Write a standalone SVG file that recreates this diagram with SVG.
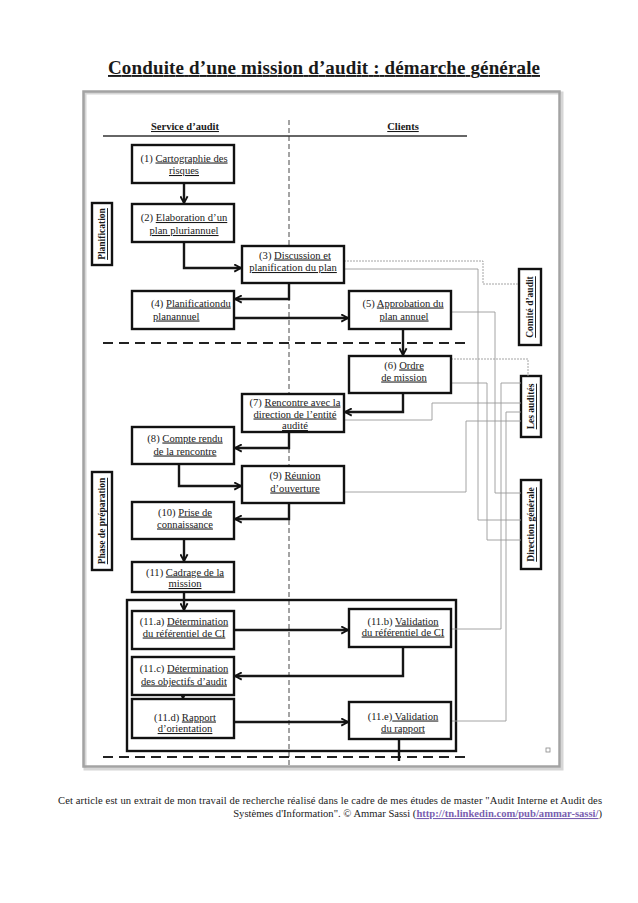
<svg xmlns="http://www.w3.org/2000/svg" width="638" height="903" viewBox="0 0 638 903">
<style>
.t{font-family:"Liberation Serif","Times New Roman",serif;fill:#1a1a1a}
.bx{font-size:10.6px}
.u{text-decoration:underline}
.box{fill:#fff;stroke:#111;stroke-width:2.4}
.lab{fill:#fff;stroke:#111;stroke-width:2.4}
.lt{font-family:"Liberation Serif",serif;font-size:9.5px;font-weight:bold;text-decoration:underline;fill:#1a1a1a}
.con{fill:none;stroke:#161616;stroke-width:2.4}
.g{fill:none;stroke:#9a9a9a;stroke-width:0.9}
.gd{fill:none;stroke:#9a9a9a;stroke-width:0.9;stroke-dasharray:2 1}
</style>
<defs>
<marker id="ar" viewBox="0 0 10 10" refX="9" refY="5" markerWidth="9" markerHeight="9" markerUnits="userSpaceOnUse" orient="auto">
<path d="M1.5,1 L9,5 L1.5,9" fill="none" stroke="#111" stroke-width="2"/>
</marker>
</defs>
<rect width="638" height="903" fill="#fff"/>
<text x="324" y="74" text-anchor="middle" class="t" font-size="19" font-weight="bold" text-decoration="underline" textLength="432">Conduite d’une mission d’audit : démarche générale</text>

<g id="frame">
<rect x="85" y="93" width="477" height="676" fill="none" stroke="#d6d6d6" stroke-width="3"/>
<rect x="83.5" y="91.5" width="476" height="675" fill="none" stroke="#a3a3a3" stroke-width="2.5"/>
</g>

<g id="header">
<text x="185" y="130" text-anchor="middle" class="t" font-size="10.5" font-weight="bold" text-decoration="underline">Service d’audit</text>
<text x="403" y="130" text-anchor="middle" class="t" font-size="10.5" font-weight="bold" text-decoration="underline">Clients</text>
<line x1="103" y1="136" x2="467" y2="136" stroke="#333" stroke-width="1.6"/>
<line x1="289" y1="120" x2="289" y2="768" stroke="#333" stroke-width="0.9" stroke-dasharray="5 3"/>
<line x1="103" y1="343" x2="467" y2="343" stroke="#222" stroke-width="2" stroke-dasharray="10 6"/>
<line x1="103" y1="757" x2="467" y2="757" stroke="#222" stroke-width="2" stroke-dasharray="10 6"/>
<rect x="546" y="748" width="4" height="4" fill="none" stroke="#888" stroke-width="0.8"/>
</g>

<g id="sidelabels">
<g id="lab-planif"><rect class="lab" x="92" y="203" width="20" height="62"/><text class="lt" transform="translate(102,234) rotate(-90)" text-anchor="middle" dominant-baseline="central">Planification</text></g>
<g id="lab-prep"><rect class="lab" x="92" y="472" width="20" height="98"/><text class="lt" transform="translate(102,521) rotate(-90)" text-anchor="middle" dominant-baseline="central">Phase de préparation</text></g>
<g id="lab-comite"><rect class="lab" x="519" y="269" width="22" height="76"/><text class="lt" transform="translate(530,307) rotate(-90)" text-anchor="middle" dominant-baseline="central">Comité d’audit</text></g>
<g id="lab-audites"><rect class="lab" x="521" y="376" width="20" height="61"/><text class="lt" transform="translate(531,406.5) rotate(-90)" text-anchor="middle" dominant-baseline="central">Les audités</text></g>
<g id="lab-dg"><rect class="lab" x="521" y="480" width="20" height="89"/><text class="lt" transform="translate(531,524.5) rotate(-90)" text-anchor="middle" dominant-baseline="central">Direction générale</text></g>
</g>

<g id="container"><rect x="127" y="600" width="329" height="151" fill="none" stroke="#111" stroke-width="2.4"/></g>

<g id="connectors">
<path class="gd" d="M344,261 H483 V284 H519"/>
<path class="g" d="M344,269 H478 V520 H521"/>
<path class="g" d="M451,312 H495 V493 H521"/>
<path class="gd" d="M451,359 H528 V376"/>
<path class="g" d="M451,383 H487 V540 H521"/>
<path class="g" d="M344,420 H432 V403 H521"/>
<path class="g" d="M344,492 H466 V421 H521"/>
<path class="g" d="M521,383 H501 V629 H451"/>
<path class="g" d="M521,412 H506 V721 H451"/>

<path class="con" d="M184,183 V203" marker-end="url(#ar)"/>
<path class="con" d="M184,242 V268 H241" marker-end="url(#ar)"/>
<path class="con" d="M289,283 V299 H235" marker-end="url(#ar)"/>
<path class="con" d="M234,318 H348" marker-end="url(#ar)"/>
<path class="con" d="M403,329 V355" marker-end="url(#ar)"/>
<path class="con" d="M403,393 V412 H345" marker-end="url(#ar)"/>
<path class="con" d="M289,432 V448 H235" marker-end="url(#ar)"/>
<path class="con" d="M179,464 V486 H241" marker-end="url(#ar)"/>
<path class="con" d="M289,503 V519 H235" marker-end="url(#ar)"/>
<path class="con" d="M184,539 V561" marker-end="url(#ar)"/>
<path class="con" d="M184,592 V610" marker-end="url(#ar)"/>
<path class="con" d="M234,630 H348" marker-end="url(#ar)"/>
<path class="con" d="M403,647 V676 H235" marker-end="url(#ar)"/>
<path class="con" d="M183,695 V698" marker-end="url(#ar)"/>
<path class="con" d="M234,722 H348" marker-end="url(#ar)"/>
<path class="con" d="M399,739 V761"/>
</g>

<g id="n1"><rect class="box" x="132" y="145" width="102" height="38"/><text class="t bx" x="184" y="161.5" text-anchor="middle">(1) <tspan class="u">Cartographie des</tspan></text><text class="t bx u" x="184" y="174" text-anchor="middle">risques</text></g>
<g id="n2"><rect class="box" x="132" y="204" width="102" height="38"/><text class="t bx" x="184" y="221" text-anchor="middle">(2) <tspan class="u">Elaboration d’un</tspan></text><text class="t bx u" x="184" y="234" text-anchor="middle">plan pluriannuel</text></g>
<g id="n3"><rect class="box" x="242" y="246" width="102" height="37"/><text class="t bx" x="295" y="258.5" text-anchor="middle">(3) <tspan class="u">Discussion et</tspan></text><text class="t bx u" x="293" y="271" text-anchor="middle">planification du plan</text></g>
<g id="n4"><rect class="box" x="132" y="291" width="102" height="38"/><text class="t bx" x="151" y="306.5">(4) <tspan class="u">Planificationdu</tspan></text><text class="t bx u" x="153" y="319.5">planannuel</text></g>
<g id="n5"><rect class="box" x="349" y="291" width="102" height="38"/><text class="t bx" x="403" y="306.5" text-anchor="middle">(5) <tspan class="u">Approbation du</tspan></text><text class="t bx u" x="404" y="319.5" text-anchor="middle">plan annuel</text></g>
<g id="n6"><rect class="box" x="349" y="356" width="102" height="37"/><text class="t bx" x="404" y="368.5" text-anchor="middle">(6) <tspan class="u">Ordre</tspan></text><text class="t bx u" x="404" y="380.5" text-anchor="middle">de mission</text></g>
<g id="n7"><rect class="box" x="242" y="394" width="102" height="38"/><text class="t bx" x="295" y="405.5" text-anchor="middle">(7) <tspan class="u">Rencontre avec la</tspan></text><text class="t bx u" x="295" y="417.5" text-anchor="middle">direction de l’entité</text><text class="t bx u" x="295" y="429" text-anchor="middle">audité</text></g>
<g id="n8"><rect class="box" x="132" y="427" width="102" height="37"/><text class="t bx" x="185" y="441.5" text-anchor="middle">(8) <tspan class="u">Compte rendu</tspan></text><text class="t bx u" x="185" y="454.5" text-anchor="middle">de la rencontre</text></g>
<g id="n9"><rect class="box" x="242" y="466" width="102" height="37"/><text class="t bx" x="295" y="478.5" text-anchor="middle">(9) <tspan class="u">Réunion</tspan></text><text class="t bx u" x="295" y="491.5" text-anchor="middle">d’ouverture</text></g>
<g id="n10"><rect class="box" x="132" y="502" width="102" height="37"/><text class="t bx" x="185" y="515.5" text-anchor="middle">(10) <tspan class="u">Prise de</tspan></text><text class="t bx u" x="185" y="527.5" text-anchor="middle">connaissance</text></g>
<g id="n11"><rect class="box" x="132" y="562" width="102" height="30"/><text class="t bx" x="185" y="575.5" text-anchor="middle">(11) <tspan class="u">Cadrage de la</tspan></text><text class="t bx u" x="185" y="587" text-anchor="middle">mission</text></g>
<g id="n11a"><rect class="box" x="132" y="611" width="102" height="38"/><text class="t bx" x="184" y="624.5" text-anchor="middle">(11.a) <tspan class="u">Détermination</tspan></text><text class="t bx u" x="184" y="636.5" text-anchor="middle">du référentiel de CI</text></g>
<g id="n11b"><rect class="box" x="349" y="609" width="102" height="38"/><text class="t bx" x="403" y="624.5" text-anchor="middle">(11.b) <tspan class="u">Validation</tspan></text><text class="t bx u" x="403" y="635.5" text-anchor="middle">du référentiel de CI</text></g>
<g id="n11c"><rect class="box" x="132" y="657" width="102" height="38"/><text class="t bx" x="184" y="671.5" text-anchor="middle">(11.c) <tspan class="u">Détermination</tspan></text><text class="t bx u" x="184" y="684.5" text-anchor="middle">des objectifs d’audit</text></g>
<g id="n11d"><rect class="box" x="132" y="699" width="102" height="39"/><text class="t bx" x="185" y="720.5" text-anchor="middle">(11.d) <tspan class="u">Rapport</tspan></text><text class="t bx u" x="185" y="732" text-anchor="middle">d’orientation</text></g>
<g id="n11e"><rect class="box" x="349" y="702" width="102" height="37"/><text class="t bx" x="403" y="719.5" text-anchor="middle">(11.e)<tspan class="u"> Validation</tspan></text><text class="t bx u" x="403" y="731.5" text-anchor="middle">du rapport</text></g>

<g id="footer">
<text class="t" font-size="10.6" x="58" y="804" textLength="544" lengthAdjust="spacing">Cet article est un extrait de mon travail de recherche réalisé dans le cadre de mes études de master "Audit Interne et Audit des</text>
<text class="t" font-size="10.6" x="602" y="817" text-anchor="end">Systèmes d'Information". © Ammar Sassi (<tspan font-weight="bold" text-decoration="underline" fill="#7a5fb0">http://tn.linkedin.com/pub/ammar-sassi/</tspan>)</text>
</g>
</svg>
